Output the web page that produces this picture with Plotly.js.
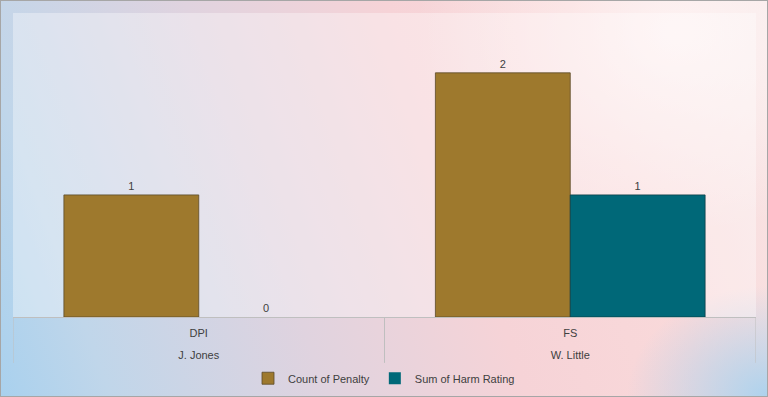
<!DOCTYPE html>
<html>
<head>
<meta charset="utf-8">
<script src="https://cdn.plot.ly/plotly-3.0.1.min.js"></script>
<style>
  html, body { margin: 0; padding: 0; }
  #wrap {
    width: 768px; height: 397px; box-sizing: border-box;
    border: 1px solid #a6a6a6;
    background:
      radial-gradient(ellipse 140px 110px at 100% 100%, rgba(170,210,238,0.95) 0%, rgba(170,210,238,0) 100%),
      radial-gradient(ellipse 260px 200px at 88% 8%, rgba(255,250,250,0.7) 0%, rgba(255,250,250,0) 100%),
      linear-gradient(70deg, #a9d1ee 0%, #c0d6ea 12%, #e0d3df 36%, #f6d3d7 58%, #f9d9da 78%, #f8e6e6 100%);
  }
  #chart { width: 766px; height: 395px; }
</style>
</head>
<body>
<div id="wrap"><div id="chart"></div></div>
<script>
const players = ["J. Jones", "W. Little"];
const penalties = ["DPI", "FS"];
const countOfPenalty = [1, 2];
const sumOfHarmRating = [0, 1];

const labelFont = { family: "Liberation Sans, Arial, sans-serif", size: 11, color: "#404040" };
const lineCol = "#bfbfbf";

const traces = [
  {
    type: "bar", name: "Count of Penalty", x: penalties, y: countOfPenalty,
    marker: { color: "#9e792d", line: { color: "#5b4a2a", width: countOfPenalty.map(v => v === 0 ? 0 : 0.8) } },
    text: countOfPenalty.map(String), textposition: "outside", cliponaxis: false,
    textfont: labelFont, hoverinfo: "skip"
  },
  {
    type: "bar", name: "Sum of Harm Rating", x: penalties, y: sumOfHarmRating,
    marker: { color: "#006878", line: { color: "#0b3f47", width: sumOfHarmRating.map(v => v === 0 ? 0 : 0.8) } },
    text: sumOfHarmRating.map(String), textposition: "outside", cliponaxis: false,
    textfont: labelFont, hoverinfo: "skip"
  },
  {
    // outer category level (player) on an overlaid axis
    type: "bar", x: players, y: players.map(() => null), xaxis: "x2",
    showlegend: false, hoverinfo: "skip"
  }
];

// category group dividers, at the boundaries between categories
const shapes = [];
for (let i = 0; i <= players.length; i++) {
  shapes.push({
    type: "line", xref: "x", yref: "paper", x0: i - 0.5, x1: i - 0.5, y0: 0, y1: -0.151,
    line: { color: lineCol, width: 1 }, layer: "above"
  });
}

const layout = {
  width: 766, height: 395,
  margin: { l: 12, r: 11, t: 12, b: 79, pad: 0 },
  paper_bgcolor: "rgba(0,0,0,0)",
  plot_bgcolor: "rgba(255,255,255,0.35)",
  barmode: "group", bargap: 0.274, bargroupgap: 0,
  showlegend: true,
  legend: {
    orientation: "h", x: 0.5, xanchor: "center", xref: "container",
    y: 0.045, yanchor: "middle", yref: "container",
    font: labelFont, bgcolor: "rgba(0,0,0,0)", itemwidth: 30, traceorder: "normal"
  },
  xaxis: {
    type: "category", range: [-0.5, penalties.length - 0.5],
    showline: true, linecolor: lineCol, linewidth: 1,
    ticks: "", ticklabelstandoff: 6,
    tickfont: labelFont, showgrid: false, zeroline: false, automargin: false
  },
  xaxis2: {
    type: "category", overlaying: "x", side: "bottom", anchor: "y",
    range: [-0.5, players.length - 0.5],
    showline: false, ticks: "", ticklabelstandoff: 30,
    tickfont: labelFont, showgrid: false, zeroline: false, automargin: false
  },
  yaxis: {
    range: [0, 2.49], visible: false, showgrid: false, zeroline: false, fixedrange: true
  },
  shapes: shapes,
  font: labelFont
};

Plotly.newPlot("chart", traces, layout, { displayModeBar: false, staticPlot: true });
</script>
</body>
</html>
